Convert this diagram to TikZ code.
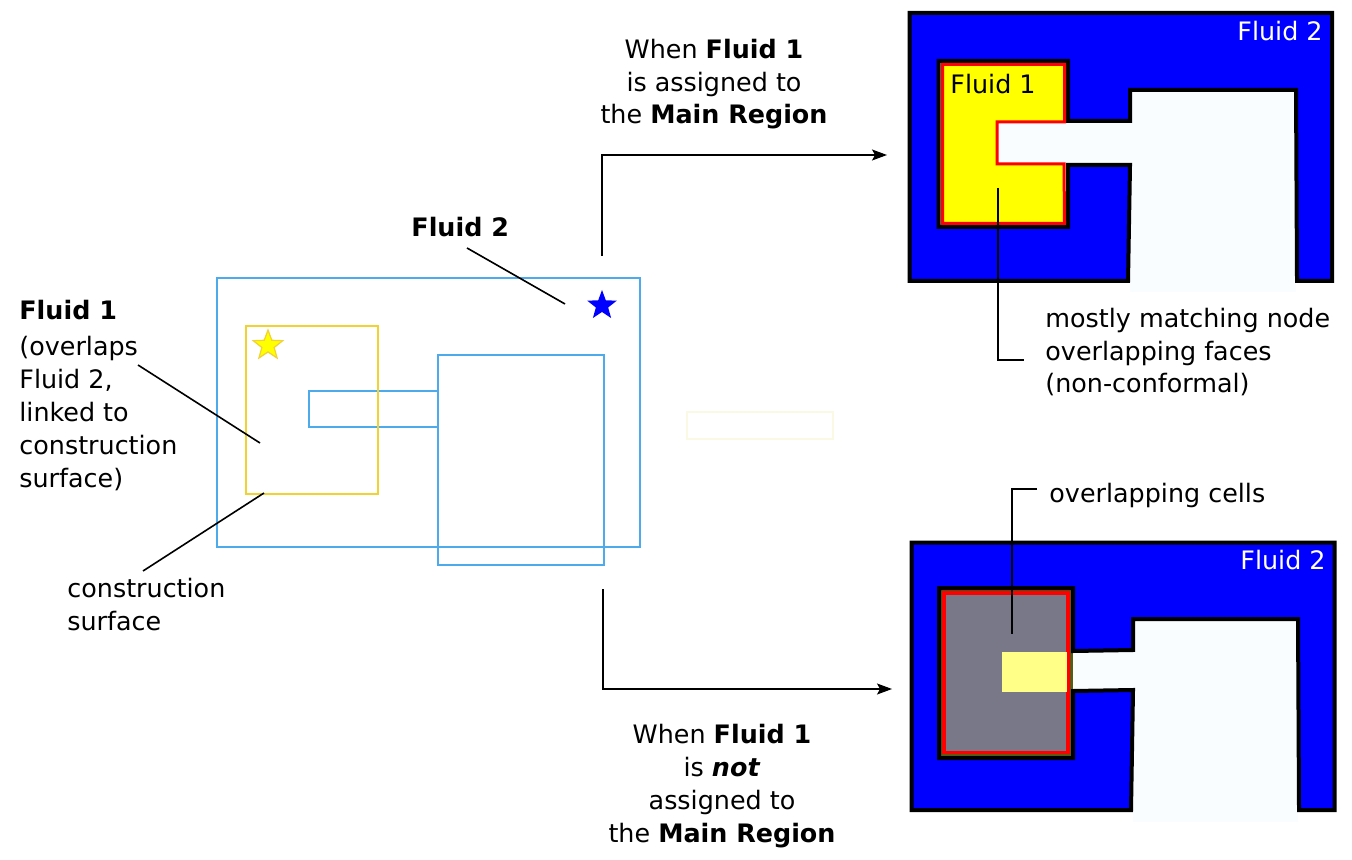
\documentclass[tikz,border=0pt]{standalone}
\usepackage{fontspec}
\setmainfont{DejaVu Sans}
\usetikzlibrary{arrows.meta,shapes.geometric}
\definecolor{skyline}{RGB}{77,171,235}
\definecolor{goldline}{RGB}{240,210,50}
\definecolor{fluidblue}{RGB}{0,0,255}
\definecolor{fluidyellow}{RGB}{255,255,0}
\definecolor{paleyellow}{RGB}{255,255,136}
\definecolor{cellgray}{RGB}{120,120,136}
\definecolor{voidwhite}{RGB}{250,253,255}
\definecolor{faintbox}{RGB}{250,250,228}
\definecolor{rimolive}{RGB}{90,90,20}

\begin{document}
\begin{tikzpicture}[x=0.5pt,y=-0.5pt,
  txt/.style={inner sep=0pt,font=\fontsize{12.7}{16.4}\selectfont},
  leader/.style={line width=0.8pt},
  thinleader/.style={line width=0.6pt},
  flow/.style={line width=0.6pt,-{Stealth[length=7.5pt,width=5.5pt,inset=1.5pt]}},
  meshwall/.style={draw=black,line width=2pt,fill=fluidblue,line join=miter},
  outline/.style={draw=skyline,line width=1pt},
  marker/.style={star,star points=5,star point ratio=2.4,minimum size=15.5pt,inner sep=0pt}]
  \useasboundingbox (0,0) rectangle (1352,860);

  % construction sketch
  \draw[outline] (217,278) rectangle (640,547);
  \draw[outline] (438,355) rectangle (604,565);
  \draw[outline] (438,391) -- (309,391) -- (309,427) -- (438,427);
  \draw[draw=goldline,line width=1pt] (246,326) rectangle (378,494);
  \node[marker,fill=fluidyellow,draw=goldline,line width=0.6pt] (seed1) at (268,345.5) {};
  \node[marker,fill=fluidblue] (seed2) at (602,305.5) {};
  \draw[faintbox,line width=1pt] (687,412) rectangle (833,439);

  \node[txt,anchor=base west,align=left] (fluid1lbl) at (19,487)
    {\textbf{Fluid 1}\\[1.5pt](overlaps\\Fluid 2,\\linked to\\construction\\surface)};
  \node[txt,anchor=base west,align=left] (conslbl) at (67,630) {construction\\surface};
  \node[txt,anchor=base west] (fluid2lbl) at (411,237) {\textbf{Fluid 2}};

  \coordinate (f2a) at (467,248);  \coordinate (f2b) at (565,304);
  \coordinate (f1a) at (138,365);  \coordinate (f1b) at (260,443);
  \coordinate (csa) at (143,571);  \coordinate (csb) at (264,493);
  \draw[leader] (f2a) -- (f2b);
  \draw[leader] (f1a) -- (f1b);
  \draw[leader] (csa) -- (csb);

  % the two outcomes
  \node[txt,anchor=base,align=center] (mainlbl) at (714,124)
    {When \textbf{Fluid 1}\\is assigned to\\the \textbf{Main Region}};
  \node[txt,anchor=base,align=center] (notlbl) at (722,842)
    {When \textbf{Fluid 1}\\is \textbf{\textit{not}}\\assigned to\\the \textbf{Main Region}};
  \coordinate (upfrom) at (602,256);  \coordinate (upto) at (887,155);
  \coordinate (dnfrom) at (603,589);  \coordinate (dnto) at (892,689);
  \draw[flow] (upfrom) |- (upto);
  \draw[flow] (dnfrom) |- (dnto);

  % assigned: conformal-ish mesh
  \fill[voidwhite] (1130,89) rectangle (1296,292);
  \fill[voidwhite] (997,121) rectangle (1130,165);
  \draw[meshwall] (909.5,281) -- (909.5,13) -- (1332,13) -- (1332,281) -- (1297,281)
    -- (1296,90) -- (1130,90) -- (1130,121) -- (1068,121) -- (1068,61) -- (938.5,61)
    -- (938.5,227) -- (1068,227) -- (1068,165) -- (1130,165) -- (1128,281) -- cycle;
  \draw[draw=red,line width=1.5pt,fill=fluidyellow] (942.5,64.5) -- (1064.5,64.5) -- (1064.5,122)
    -- (997,122) -- (997,164) -- (1064,164) -- (1064.5,223.5) -- (942.5,223.5) -- cycle;
  \node[txt,anchor=base west] (f1in) at (950,94) {Fluid 1};
  \node[txt,anchor=base east,text=white] (f2top) at (1323,41) {Fluid 2};
  \node[txt,anchor=base west,align=left] (facelbl) at (1045,393)
    {mostly matching node\\overlapping faces\\(non-conformal)};
  \coordinate (facea) at (998,188);  \coordinate (faceb) at (1024,360);
  \draw[thinleader] (facea) |- (faceb);

  % not assigned: overlapping mesh
  \fill[voidwhite] (1133,619) rectangle (1298,822);
  \fill[voidwhite] (1070,651) rectangle (1133,691);
  \fill[rimolive] (939,588) rectangle (1073,758);
  \fill[cellgray] (944,593) rectangle (1068,752);
  \draw[red,line width=1.8pt] (944,593) rectangle (1068,752.5);
  \fill[paleyellow] (1002,652) rectangle (1067,692);
  \draw[meshwall] (911.5,810) -- (911.5,542.5) -- (1334.5,542.5) -- (1334.5,810) -- (1299,810)
    -- (1298,619) -- (1133,619) -- (1133,650) -- (1073,651) -- (1073,588) -- (939,588)
    -- (939,758) -- (1073,758) -- (1073,691) -- (1133,690) -- (1131,810) -- cycle;
  \node[txt,anchor=base east,text=white] (f2bot) at (1326,569) {Fluid 2};
  \node[txt,anchor=base west] (celllbl) at (1049,502) {overlapping cells};
  \coordinate (cella) at (1037,489);  \coordinate (cellb) at (1012,634);
  \draw[thinleader] (cella) -| (cellb);
\end{tikzpicture}
\end{document}
